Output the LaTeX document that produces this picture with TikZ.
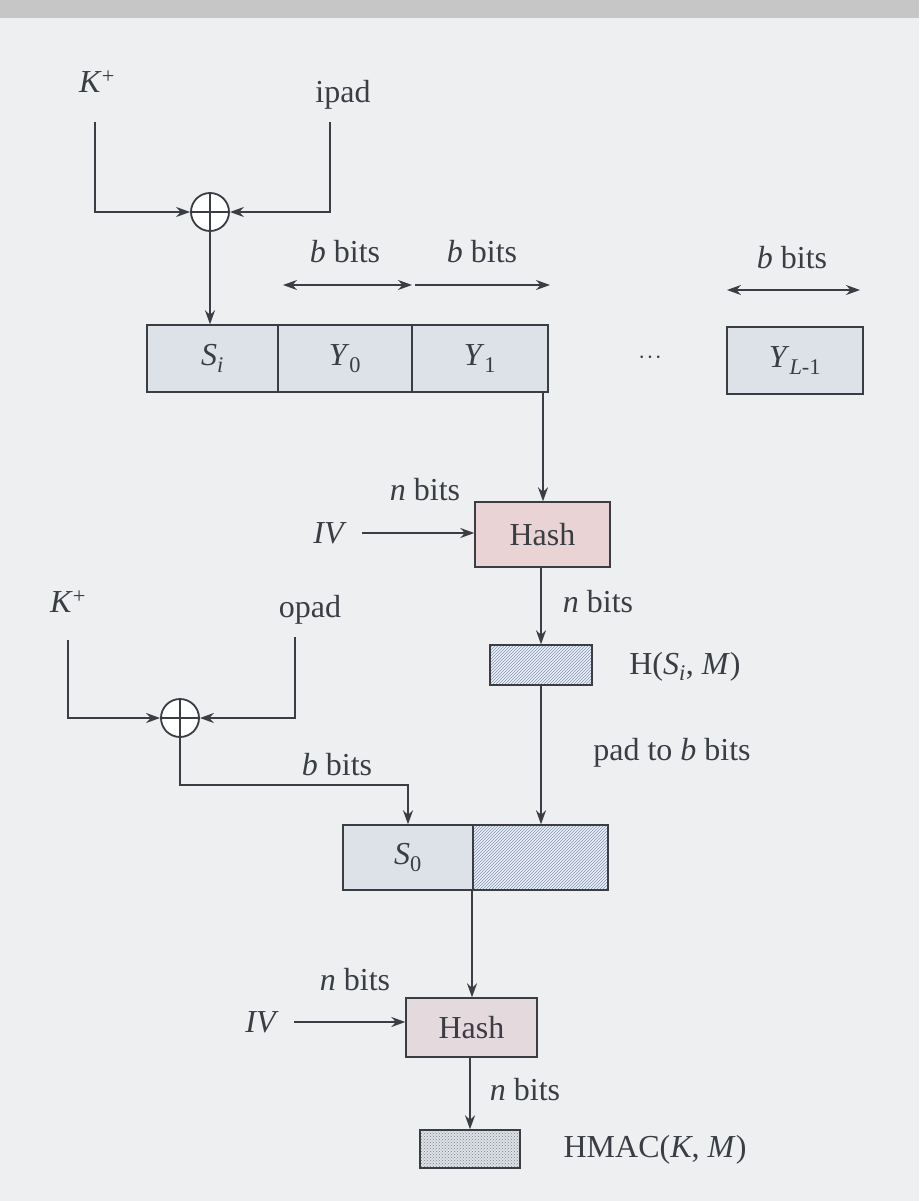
\documentclass[tikz,border=0pt]{standalone}
\usepackage{fontspec}
\setmainfont{Liberation Serif}
\usetikzlibrary{arrows.meta,patterns}
\definecolor{bg}{HTML}{EDEFF1}
\definecolor{boxf}{HTML}{DDE1E8}
\definecolor{hashf}{HTML}{E9D3D4}
\definecolor{ln}{HTML}{3A3D44}
\definecolor{hat}{HTML}{7F98AE}
\newcommand{\myit}[1]{\textit{#1}}
\newcommand{\mysub}[1]{\textsubscript{#1}}
\begin{document}
\begin{tikzpicture}[x=1pt,y=-1pt,
  every node/.style={font=\fontsize{32}{34}\selectfont, text=ln},
  line/.style={draw=ln, line width=1.6pt},
  arr/.style={line, -{Stealth[length=14pt,width=10pt]}},
  darr/.style={line, {Stealth[length=14pt,width=10pt]}-{Stealth[length=14pt,width=10pt]}},
  cell/.style={draw=ln, line width=1.4pt, fill=boxf},
  hcell/.style={draw=ln, line width=1.4pt, preaction={fill=boxf!80!blue!20}, pattern=north east lines, pattern color=hat},
  xorc/.style={draw=ln, line width=1.8pt, circle, minimum size=38pt, inner sep=0pt, fill=white}]
\useasboundingbox (0,0) rectangle (919,1201);
\fill[bg] (0,0) rectangle (919,1201);
\fill[gray!45] (0,0) rectangle (919,18);

% top xor
\node (kp1) at (97,82) {\myit{K}\textsuperscript{+}};
\node (ipad) at (343,95) {ipad};
\node[xorc] (x1) at (210,212) {};
\draw[line] (x1.north) -- (x1.south) (x1.west) -- (x1.east);
\coordinate (k1) at (95,122);
\coordinate (i1) at (330,122);
\draw[arr] (k1) |- (x1.west);
\draw[arr] (i1) |- (x1.east);

% top row
\node[cell, minimum width=131pt, minimum height=67pt, inner sep=0pt] (si) at (212.5,358.5) {\myit{S}\mysub{\myit{i}}};
\node[cell, minimum width=134pt, minimum height=67pt, inner sep=0pt] (y0) at (345,358.5) {\myit{Y}\mysub{0}};
\node[cell, minimum width=136pt, minimum height=67pt, inner sep=0pt] (y1) at (480,358.5) {\myit{Y}\mysub{1}};
\node (dots) at (650,358) {\textbf{$\cdot\!\cdot\!\cdot$}};
\node[cell, minimum width=136pt, minimum height=67pt, inner sep=0pt] (yl) at (795,360.5) {\myit{Y}\mysub{\myit{L}-1}};
\draw[arr] (x1.south) -- (si.north -| x1);

\node (bb1) at (345,252) {\myit{b} bits};
\node (bb2) at (482,252) {\myit{b} bits};
\node (bb3) at (792,258) {\myit{b} bits};
\coordinate (a1) at (283,285); \coordinate (a2) at (412,285);
\coordinate (a3) at (415,285); \coordinate (a4) at (550,285);
\coordinate (a5) at (727,290); \coordinate (a6) at (860,290);
\draw[darr] (a1) -- (a2);
\draw[line, -{Stealth[length=14pt,width=10pt]}] (a3) -- (a4);
\draw[darr] (a5) -- (a6);

% hash 1
\node[draw=ln, line width=1.4pt, fill=hashf, minimum width=135pt, minimum height=65pt] (h1) at (542.5,534.5) {Hash};
\coordinate (t1) at (543,392);
\draw[arr] (t1) -- (h1.north -| t1);
\node (nb1) at (425,490) {\myit{n} bits};
\node (iv1) at (330,533) {\myit{IV}};
\draw[arr] (iv1.east) ++(12,0) -- (h1.west |- iv1);
\node[hcell, minimum width=102pt, minimum height=40pt, inner sep=0pt] (hs) at (541,665) {};
\draw[arr] (h1.south -| hs) -- (hs.north);
\node (nb2) at (598,602) {\myit{n} bits};
\node (hsl) at (685,667) {H(\myit{S}\mysub{\myit{i}}, \myit{M})};

% bottom xor
\node (kp2) at (68,602) {\myit{K}\textsuperscript{+}};
\node (opad) at (310,610) {opad};
\node[xorc] (x2) at (180,718) {};
\draw[line] (x2.north) -- (x2.south) (x2.west) -- (x2.east);
\coordinate (k2) at (68,640);
\coordinate (o2) at (295,637);
\draw[arr] (k2) |- (x2.west);
\draw[arr] (o2) |- (x2.east);

% S0 row
\node[cell, minimum width=130pt, minimum height=65pt, inner sep=0pt] (s0) at (408,857.5) {\myit{S}\mysub{0}};
\node[hcell, minimum width=135pt, minimum height=65pt, inner sep=0pt] (s0h) at (540.5,857.5) {};
\coordinate (c1) at (180,785);
\coordinate (c2) at (408,785);
\draw[arr] (x2.south) -- (c1) -- (c2) -- (s0.north);
\node (bb4) at (337,765) {\myit{b} bits};
\draw[arr] (hs.south) -- (s0h.north -| hs);
\node (pad) at (672,753) {pad to \myit{b} bits};

% hash 2
\node[draw=ln, line width=1.4pt, fill=hashf!60!boxf, minimum width=131pt, minimum height=59pt] (h2) at (471.5,1027.5) {Hash};
\coordinate (t2) at (472,890);
\draw[arr] (t2) -- (h2.north -| t2);
\node (nb3) at (355,980) {\myit{n} bits};
\node (iv2) at (262,1022) {\myit{IV}};
\draw[arr] (iv2.east) ++(12,0) -- (h2.west |- iv2);
\node[draw=ln, line width=1.4pt, preaction={fill=boxf}, pattern=crosshatch dots, pattern color=gray, minimum width=100pt, minimum height=38pt, inner sep=0pt] (hm) at (470,1149) {};
\draw[arr] (h2.south -| hm) -- (hm.north);
\node (nb4) at (525,1090) {\myit{n} bits};
\node (hml) at (655,1150) {HMAC(\myit{K}, \myit{M})};
\end{tikzpicture}
\end{document}
